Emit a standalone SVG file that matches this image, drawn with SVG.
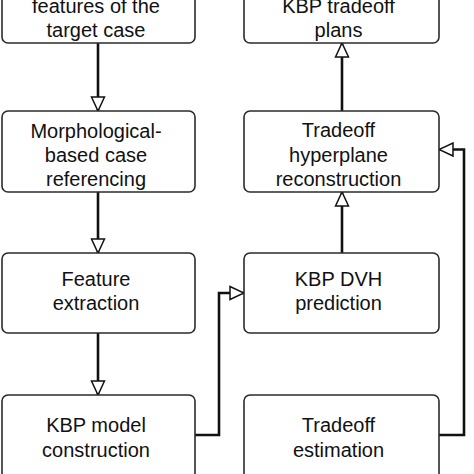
<svg xmlns="http://www.w3.org/2000/svg" width="474" height="474" viewBox="0 0 474 474">
<defs>
<style>
.box{fill:#fff;stroke:#2b2b2b;stroke-width:1.6}
.t{font-family:"Liberation Sans",Arial,Helvetica,sans-serif;font-size:20px;fill:#111;text-anchor:middle}
.c{fill:none;stroke:#111;stroke-width:2.6}
</style>
<marker id="ah" markerUnits="userSpaceOnUse" markerWidth="16" markerHeight="16" refX="14" refY="7" orient="auto" viewBox="-1 -1 16 16">
<path d="M0,0.5 L14,7 L0,13.5 z" fill="#fff" stroke="#111" stroke-width="1.5"/>
</marker>
</defs>
<rect width="474" height="474" fill="#fff"/>
<g id="connectors">
<path class="c" d="M98,43 V111" marker-end="url(#ah)"/>
<path class="c" d="M98,192 V253" marker-end="url(#ah)"/>
<path class="c" d="M98,333 V395" marker-end="url(#ah)"/>
<path class="c" d="M195,435 H219 V293 H244" marker-end="url(#ah)"/>
<path class="c" d="M342,253 V192" marker-end="url(#ah)"/>
<path class="c" d="M342,111 V43" marker-end="url(#ah)"/>
<path class="c" d="M439,435 H464 V149.5 H439" marker-end="url(#ah)"/>
</g>
<g id="n-features">
<rect class="box" x="2" y="-40" width="193" height="83" rx="6"/>
<text class="t" x="96" y="13">features of the</text>
<text class="t" x="96" y="37">target case</text>
</g>
<g id="n-morph">
<rect class="box" x="2" y="111" width="193" height="81" rx="6"/>
<text class="t" x="96" y="138">Morphological-</text>
<text class="t" x="96" y="162">based case</text>
<text class="t" x="96" y="185.5">referencing</text>
</g>
<g id="n-feature-extraction">
<rect class="box" x="2" y="253" width="193" height="80" rx="6"/>
<text class="t" x="96" y="285.5">Feature</text>
<text class="t" x="96" y="310">extraction</text>
</g>
<g id="n-kbp-model">
<rect class="box" x="2" y="395" width="193" height="90" rx="6"/>
<text class="t" x="96" y="431.5">KBP model</text>
<text class="t" x="96" y="456.5">construction</text>
</g>
<g id="n-kbp-plans">
<rect class="box" x="244" y="-40" width="195" height="83" rx="6"/>
<text class="t" x="338.5" y="13">KBP tradeoff</text>
<text class="t" x="338.5" y="37">plans</text>
</g>
<g id="n-hyperplane">
<rect class="box" x="244" y="111" width="195" height="81" rx="6"/>
<text class="t" x="338.5" y="137">Tradeoff</text>
<text class="t" x="338.5" y="162">hyperplane</text>
<text class="t" x="338.5" y="186">reconstruction</text>
</g>
<g id="n-dvh">
<rect class="box" x="244" y="253" width="195" height="80" rx="6"/>
<text class="t" x="338.5" y="285.5">KBP DVH</text>
<text class="t" x="338.5" y="310">prediction</text>
</g>
<g id="n-tradeoff-est">
<rect class="box" x="244" y="395" width="195" height="90" rx="6"/>
<text class="t" x="338.5" y="432">Tradeoff</text>
<text class="t" x="338.5" y="456.5">estimation</text>
</g>
</svg>
